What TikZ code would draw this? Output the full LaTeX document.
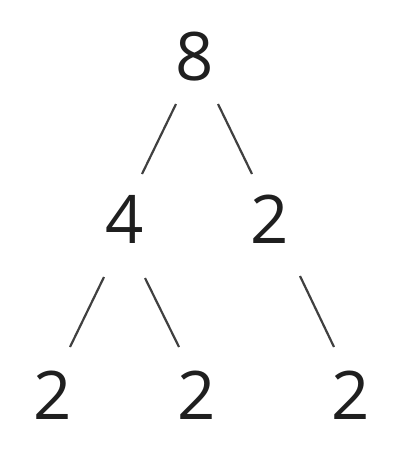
\documentclass[tikz,border=0pt]{standalone}
\usepackage{fontspec}
\setmainfont{Open Sans}
\begin{document}
\begin{tikzpicture}[x=1pt,y=-1pt,
		num/.style={inner sep=0pt,font=\fontsize{67}{67}\selectfont,text=black!88},
		branch/.style={line width=2.2pt,draw=black!75}]
		\useasboundingbox (0,0) rectangle (418,450);
		\node[num] (eight) at (195,57) {8};
		\node[num] (four) at (125,219) {4};
		\node[num] (twoA) at (270,219) {2};
		\node[num] (twoL) at (53,395) {2};
		\node[num] (twoM) at (197,395) {2};
		\node[num] (twoR) at (351,395) {2};
		\draw[branch] ([shift={(-19,47)}]eight.center) -- ([shift={(17,-45)}]four.center);
		\draw[branch] ([shift={(23,47)}]eight.center) -- ([shift={(-18,-45)}]twoA.center);
		\draw[branch] ([shift={(-21,58)}]four.center) -- ([shift={(17,-48)}]twoL.center);
		\draw[branch] ([shift={(20,59)}]four.center) -- ([shift={(-18,-48)}]twoM.center);
		\draw[branch] ([shift={(30,57)}]twoA.center) -- ([shift={(-17,-48)}]twoR.center);
	\end{tikzpicture}
\end{document}
